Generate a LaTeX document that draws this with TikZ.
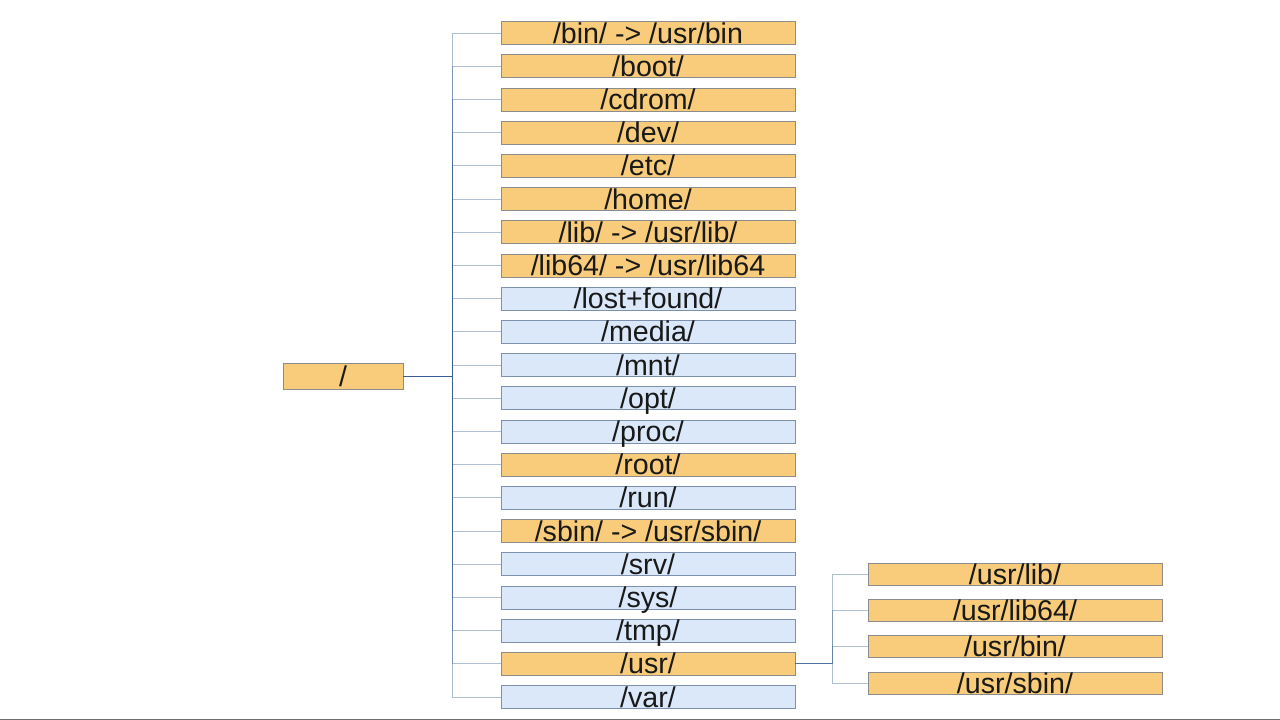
\documentclass[tikz,border=0pt]{standalone}
\usepackage{fontspec}
\setmainfont{Liberation Sans}
\definecolor{orfill}{RGB}{248,204,122}
\definecolor{orline}{RGB}{140,140,140}
\definecolor{blfill}{RGB}{218,232,250}
\definecolor{blline}{RGB}{125,145,175}
\definecolor{conn}{RGB}{55,95,145}
\definecolor{txt}{RGB}{25,25,25}
\tikzset{
  dirbox/.style={draw, line width=0.8pt, inner sep=0pt, minimum width=294pt,
    minimum height=23pt, text height=20pt, text depth=0pt,
    font=\fontsize{28.6}{30}\selectfont, text=txt},
  sysdir/.style={dirbox, fill=orfill, draw=orline},
  userdir/.style={dirbox, fill=blfill, draw=blline},
  link/.style={draw=conn, line width=1pt, draw opacity=0.4},
}
\begin{document}
\begin{tikzpicture}[x=1pt,y=-1pt]
\useasboundingbox (0,0) rectangle (1280,720);
\fill[white] (0,0) rectangle (1280,720);
\node[sysdir, minimum width=120pt, minimum height=26pt] (root) at (343,376) {/};
\node[sysdir]  (bin)   at (648,33.0)  {/bin/ -> /usr/bin};
\node[sysdir]  (boot)  at (648,66.2)  {/boot/};
\node[sysdir]  (cdrom) at (648,99.4)  {/cdrom/};
\node[sysdir]  (dev)   at (648,132.6) {/dev/};
\node[sysdir]  (etc)   at (648,165.8) {/etc/};
\node[sysdir]  (home)  at (648,199.0) {/home/};
\node[sysdir]  (lib)   at (648,232.2) {/lib/ -> /usr/lib/};
\node[sysdir]  (libsf) at (648,265.4) {/lib64/ -> /usr/lib64};
\node[userdir] (lost)  at (648,298.6) {/lost+found/};
\node[userdir] (media) at (648,331.8) {/media/};
\node[userdir] (mnt)   at (648,365.0) {/mnt/};
\node[userdir] (opt)   at (648,398.2) {/opt/};
\node[userdir] (proc)  at (648,431.4) {/proc/};
\node[sysdir]  (rootd) at (648,464.6) {/root/};
\node[userdir] (run)   at (648,497.8) {/run/};
\node[sysdir]  (sbin)  at (648,531.0) {/sbin/ -> /usr/sbin/};
\node[userdir] (srv)   at (648,564.2) {/srv/};
\node[userdir] (sys)   at (648,597.4) {/sys/};
\node[userdir] (tmp)   at (648,630.6) {/tmp/};
\node[sysdir]  (usr)   at (648,663.8) {/usr/};
\node[userdir] (var)   at (648,697.0) {/var/};
\node[sysdir, minimum height=22pt] (ulib)  at (1015,574) {/usr/lib/};
\node[sysdir, minimum height=22pt] (ulibsf) at (1015,610) {/usr/lib64/};
\node[sysdir, minimum height=22pt] (ubin)  at (1015,646) {/usr/bin/};
\node[sysdir, minimum height=22pt] (usbin) at (1015,683) {/usr/sbin/};
\coordinate (rj) at ([xshift=49pt]root.east);
\coordinate (uj) at ([xshift=37pt]usr.east);
\foreach \n in {bin,boot,cdrom,dev,etc,home,lib,libsf,lost,media,mnt,opt,proc,rootd,run,sbin,srv,sys,tmp,usr,var}
  \draw[link] (root.east) -- (rj) |- (\n.west);
\foreach \n in {ulib,ulibsf,ubin,usbin}
  \draw[link] (usr.east) -- (uj) |- (\n.west);
\draw[draw={rgb,255:red,110;green,110;blue,110}, line width=2pt] (0,719.5) -- (1280,719.5);
\end{tikzpicture}
\end{document}
